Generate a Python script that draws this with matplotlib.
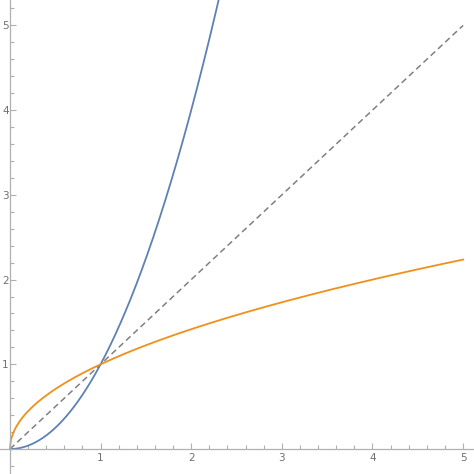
import numpy as np
import matplotlib.pyplot as plt
from matplotlib.ticker import MultipleLocator

# curves: y = x^2, y = sqrt(x), and the diagonal y = x
x = np.linspace(0, 5, 600)
square = x ** 2
root = np.sqrt(x)
diag_x = [0, 5]
diag_y = [0, 5]

major_ticks = [1, 2, 3, 4, 5]

fig = plt.figure(figsize=(4.74, 4.74), dpi=100)
ax = fig.add_axes([0, 0, 1, 1])

ax.plot(diag_x, diag_y, color='#808080', lw=1.1, ls=(0, (4, 2.5)))
ax.plot(x, square, color='#5E81B5', lw=1.3)
ax.plot(x, root, color='#F0901A', lw=1.3)

ax.set_xlim(-0.11, 5.12)
ax.set_ylim(-0.295, 5.30)

for s in ['top', 'right']:
    ax.spines[s].set_visible(False)
for s in ['left', 'bottom']:
    ax.spines[s].set_position(('data', 0))
    ax.spines[s].set_color('#b0b0b0')
    ax.spines[s].set_linewidth(0.9)

ax.set_xticks(major_ticks)
ax.set_yticks(major_ticks)
ax.xaxis.set_minor_locator(MultipleLocator(0.2))
ax.yaxis.set_minor_locator(MultipleLocator(0.2))
ax.tick_params(which='both', direction='in', color='#b0b0b0', labelcolor='#707070',
               labelsize=7.5, width=0.8)
ax.tick_params(which='major', length=4.5)
ax.tick_params(which='minor', length=2.8)
ax.tick_params(axis='x', which='major', pad=3)
ax.tick_params(axis='y', which='major', pad=1)

fig.savefig('out.png', dpi=100)
